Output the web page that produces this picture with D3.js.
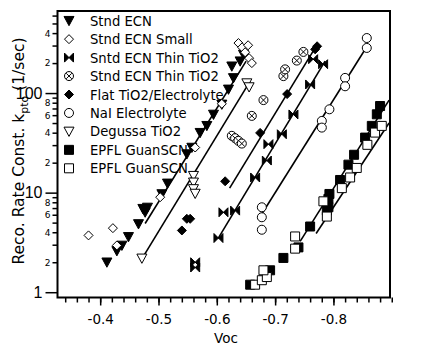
<!DOCTYPE html>
<html>
<head>
<meta charset="utf-8">
<script src="https://cdn.jsdelivr.net/npm/d3@7"></script>
<style>
	body { margin: 0; background: #fff; }
	svg { display: block; font-family: "DejaVu Sans", Verdana, sans-serif; }
</style>
</head>
<body>
<svg id="chart" width="424" height="349"></svg>
<script>
// legend labels (same order as the series below)
const seriesNames = ["Stnd ECN", "Stnd ECN Small", "Sntd ECN Thin TiO2", "Stnd ECN Thin TiO2",
	"Flat TiO2/Electrolyte", "NaI Electrolyte", "Degussa TiO2", "EPFL GuanSCN", "EPFL GuanSCN"];

// [Voc, k] pairs
const stndEcn = [[-0.4115, 2.0], [-0.4286, 2.6], [-0.4372, 2.95], [-0.4485, 3.6], [-0.4657, 4.85],
	[-0.4732, 6.9], [-0.4771, 6.35], [-0.4811, 7.1], [-0.5058, 9.7], [-0.5154, 12.4], [-0.5486, 24.4],
	[-0.5572, 28.4], [-0.5714, 40], [-0.5829, 47], [-0.5943, 61], [-0.6086, 77], [-0.62, 109],
	[-0.6285, 142], [-0.6257, 186], [-0.64, 209], [-0.6457, 244]];
const stndEcnSmall = [[-0.38, 3.72], [-0.4218, 4.4], [-0.4286, 2.95], [-0.5029, 9.0], [-0.5629, 28.4],
	[-0.6086, 78], [-0.6371, 318], [-0.6434, 288], [-0.6486, 257], [-0.6554, 224], [-0.6601, 200], [-0.6537, 302]];
const thinBowtie = [[-0.5629, 2.0], [-0.5629, 1.77], [-0.6028, 3.5], [-0.6114, 6.35], [-0.6314, 6.6],
	[-0.6657, 14.2], [-0.6858, 21], [-0.6885, 30.7], [-0.7115, 38.6], [-0.7314, 61], [-0.76, 122],
	[-0.7652, 219], [-0.7823, 195]];
const thinCircleX = [[-0.6257, 37.2], [-0.6314, 35.2], [-0.6371, 33.1], [-0.6429, 31.1], [-0.66, 59],
	[-0.68, 85], [-0.7142, 148], [-0.7171, 173], [-0.7372, 212], [-0.7485, 259]];
const flatTio2 = [[-0.5401, 4.17], [-0.5486, 5.46], [-0.5543, 5.46], [-0.6143, 13.0], [-0.6743, 39.8],
	[-0.7206, 97.7], [-0.7686, 275], [-0.772, 295]];
const naiElectrolyte = [[-0.6772, 7.13], [-0.6772, 5.66], [-0.6772, 4.24], [-0.7801, 52.5], [-0.7801, 45],
	[-0.7931, 68.7], [-0.82, 142], [-0.82, 117], [-0.8572, 357], [-0.8572, 284]];
const degussa = [[-0.4715, 2.19], [-0.56, 14.8], [-0.56, 12.7], [-0.56, 10.9], [-0.5629, 9.8],
	[-0.6515, 126], [-0.6554, 115]];
const epflFilled = [[-0.6572, 1.19], [-0.6914, 1.66], [-0.7142, 2.21], [-0.74, 2.82], [-0.76, 4.57],
	[-0.7887, 6.61], [-0.7914, 7.13], [-0.7914, 8.65], [-0.7931, 9.7], [-0.8114, 13.4], [-0.8257, 19.1],
	[-0.8354, 24], [-0.8543, 35.7], [-0.8658, 46.8], [-0.8744, 61.2], [-0.88, 74.1]];
const epflOpen = [[-0.6657, 1.19], [-0.6772, 1.32], [-0.6858, 1.42], [-0.68, 1.66], [-0.7343, 3.63],
	[-0.7343, 2.74], [-0.7828, 8.18], [-0.7887, 5.75], [-0.8144, 11.1], [-0.8286, 14.2], [-0.84, 17.7],
	[-0.8582, 30.2], [-0.8714, 40.1], [-0.8829, 46.8]];

// fit lines: [Voc start, k start, Voc end, k end]
const fitLines = [[-0.4771, 4.9, -0.6503, 209], [-0.472, 2.19, -0.6572, 132], [-0.622, 11.1, -0.7686, 284],
	[-0.6023, 3.47, -0.7857, 209], [-0.6777, 6.17, -0.8577, 295], [-0.7429, 3.24, -0.8954, 85],
	[-0.7703, 3.89, -0.8954, 50]];

// axis ticks
const xMajor = [-0.4, -0.5, -0.6, -0.7, -0.8];
const xMinor = d3.range(-0.34, -0.9, -0.02);
const yMajor = [1, 10, 100];
const yMinorLabeled = [2, 4, 6, 8, 20, 40, 60, 80, 200, 400];
const yMinor = [3, 5, 7, 9, 30, 50, 70, 90, 300, 500, 600];

const svg = d3.select("#chart");
const plot = { left: 57.5, right: 390, top: 11, bottom: 297.5 };

const x = d3.scaleLinear().domain([-0.3268, -0.897]).range([plot.left, plot.right]);
const y = d3.scaleLog().domain([0.885, 667]).range([plot.bottom, plot.top]);

// marker shapes, s = half size
const shapes = {
	triDown: s => `M${-s},${-s * 0.85}L${s},${-s * 0.85}L0,${s}Z`,
	diamond: s => `M0,${-s}L${s},0L0,${s}L${-s},0Z`,
	bowtie: s => `M${-s},${-s}L${s},${s}L${s},${-s}L${-s},${s}Z`,
	square: s => `M${-s},${-s}H${s}V${s}H${-s}Z`,
	circle: s => `M${s},0A${s},${s} 0 1,1 ${-s},0A${s},${s} 0 1,1 ${s},0Z`,
	circleX: s => {
		let c = s * 0.62;
		return `M${s},0A${s},${s} 0 1,1 ${-s},0A${s},${s} 0 1,1 ${s},0Z`
			+ `M${-c},${-c}L${c},${c}M${c},${-c}L${-c},${c}`;
	}
};

const series = [
	{ data: stndEcn, shape: "triDown", filled: true, size: 5 },
	{ data: stndEcnSmall, shape: "diamond", filled: false, size: 4.5 },
	{ data: thinBowtie, shape: "bowtie", filled: true, size: 4.5 },
	{ data: thinCircleX, shape: "circleX", filled: false, size: 4.5 },
	{ data: flatTio2, shape: "diamond", filled: true, size: 4.5 },
	{ data: naiElectrolyte, shape: "circle", filled: false, size: 4.5 },
	{ data: degussa, shape: "triDown", filled: false, size: 5 },
	{ data: epflFilled, shape: "square", filled: true, size: 4.5 },
	{ data: epflOpen, shape: "square", filled: false, size: 4.5 }
];

// x axis: major ticks with labels, then minor ticks
let xAxis = svg.append("g").attr("transform", `translate(0,${plot.bottom})`);
xAxis.call(d3.axisBottom(x).tickValues(xMajor).tickSize(8).tickSizeOuter(0).tickPadding(9)
	.tickFormat(d => d.toFixed(1)));
xAxis.append("g").call(d3.axisBottom(x).tickValues(xMinor).tickSize(5).tickSizeOuter(0).tickFormat(""));
xAxis.selectAll(".domain").remove();
xAxis.selectAll("line").attr("stroke", "#000").attr("stroke-width", 1.5);
xAxis.selectAll("text").attr("font-size", 13.5).attr("fill", "#000")
	.attr("font-family", "'DejaVu Sans', Verdana, sans-serif");

// y axis: decades large, 2/4/6/8 small labels, rest bare ticks
let yAxis = svg.append("g").attr("transform", `translate(${plot.left},0)`);
yAxis.call(d3.axisLeft(y).tickValues(yMajor).tickSize(12).tickSizeOuter(0).tickPadding(3)
	.tickFormat(d3.format("d")));
yAxis.selectAll("text").attr("font-size", 16).attr("font-family", "'Liberation Sans', Arial, sans-serif");
let yMid = yAxis.append("g").call(d3.axisLeft(y).tickValues(yMinorLabeled).tickSize(5).tickSizeOuter(0)
	.tickPadding(2).tickFormat(d => String(d).charAt(0)));
yMid.selectAll("text").attr("font-size", 9).attr("font-family", "'DejaVu Sans', Verdana, sans-serif");
yAxis.append("g").call(d3.axisLeft(y).tickValues(yMinor).tickSize(5).tickSizeOuter(0).tickFormat(""));
yAxis.selectAll(".domain").remove();
yAxis.selectAll("line").attr("stroke", "#000").attr("stroke-width", 1.5);
yAxis.selectAll("text").attr("fill", "#000");

// frame
svg.append("rect")
	.attr("x", plot.left).attr("y", plot.top)
	.attr("width", plot.right - plot.left).attr("height", plot.bottom - plot.top)
	.attr("fill", "none").attr("stroke", "#000").attr("stroke-width", 2);

// axis titles
svg.append("text")
	.attr("x", 226).attr("y", 343)
	.attr("text-anchor", "middle").attr("font-size", 13.5)
	.text("Voc");

let yTitle = svg.append("text")
	.attr("transform", "translate(24,151) rotate(-90)")
	.attr("text-anchor", "middle").attr("font-size", 15.5);
yTitle.append("tspan").text("Reco. Rate Const.  k");
yTitle.append("tspan").attr("font-size", 11).attr("dy", 4).text("pto");
yTitle.append("tspan").attr("dy", -4).text(" (1/sec)");

// legend (drawn under the data, like the original)
let legend = svg.append("g").attr("class", "legend");
seriesNames.forEach((name, i) => {
	let ly = 20.7 + i * 18.45;
	let s = series[i];
	legend.append("path")
		.attr("transform", `translate(69,${ly})`)
		.attr("d", shapes[s.shape](s.size))
		.attr("fill", s.filled ? "#000" : "#fff")
		.attr("stroke", "#000").attr("stroke-width", 1);
	legend.append("text")
		.attr("x", 90).attr("y", ly + 5)
		.attr("font-size", 13.2)
		.text(name);
});

// fit lines, clipped to the frame
svg.append("clipPath").attr("id", "plot-clip")
	.append("rect")
	.attr("x", plot.left).attr("y", plot.top)
	.attr("width", plot.right - plot.left).attr("height", plot.bottom - plot.top);

svg.append("g").attr("clip-path", "url(#plot-clip)")
	.selectAll("line")
	.data(fitLines)
	.enter().append("line")
	.attr("x1", d => x(d[0])).attr("y1", d => y(d[1]))
	.attr("x2", d => x(d[2])).attr("y2", d => y(d[3]))
	.attr("stroke", "#000").attr("stroke-width", 1.6);

// markers
let marks = svg.append("g").attr("clip-path", "url(#plot-clip)");
series.forEach(s => {
	marks.append("g")
		.selectAll("path")
		.data(s.data)
		.enter().append("path")
		.attr("transform", d => `translate(${x(d[0])},${y(d[1])})`)
		.attr("d", shapes[s.shape](s.size))
		.attr("fill", s.filled ? "#000" : "#fff")
		.attr("stroke", "#000").attr("stroke-width", 1);
});
</script>
</body>
</html>
